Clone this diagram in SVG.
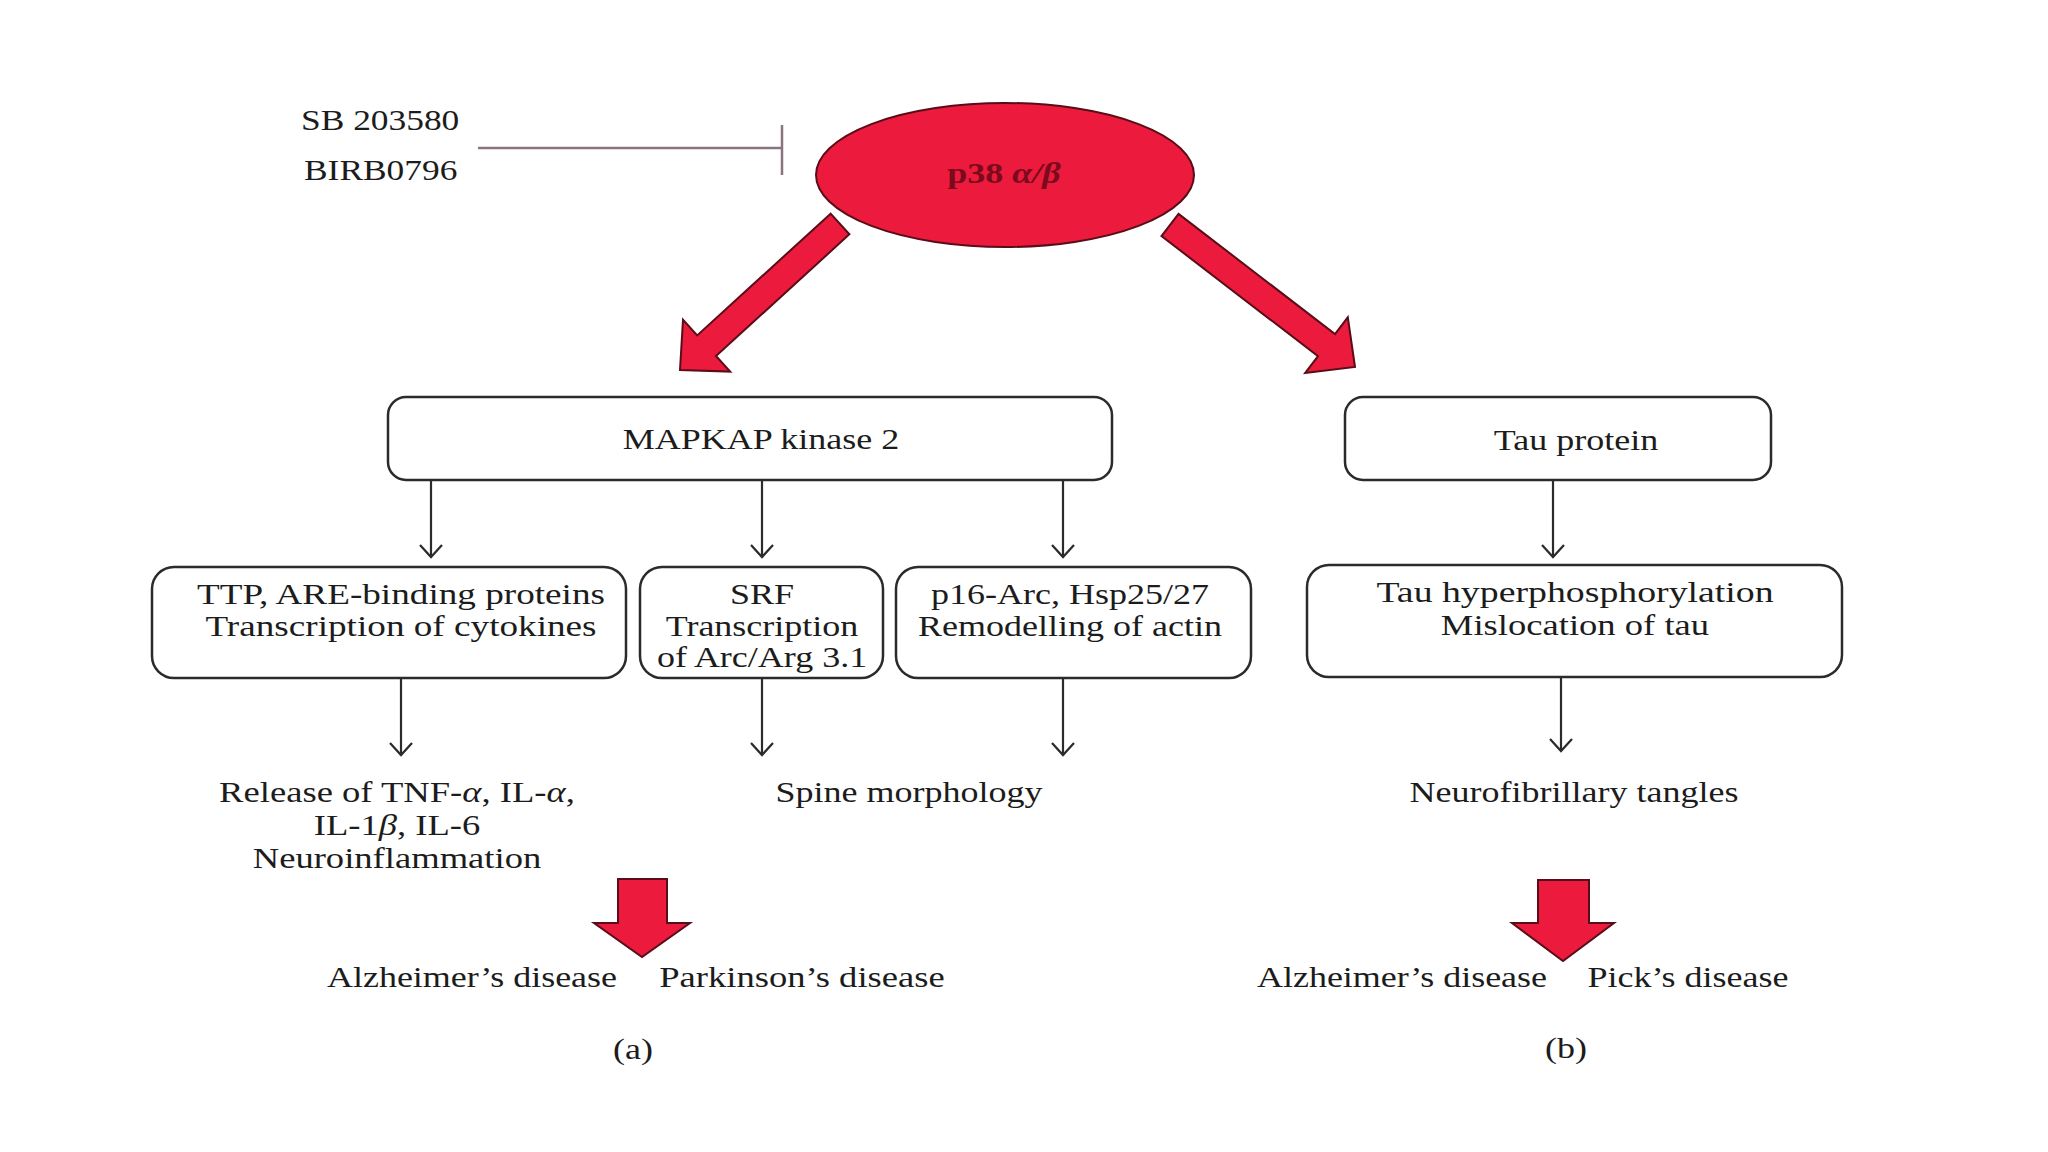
<svg xmlns="http://www.w3.org/2000/svg" width="2048" height="1152" viewBox="0 0 2048 1152">
<style>
  .t { font-family: "Liberation Serif", "Times New Roman", serif; font-size: 30px; fill: #1c1c1c; text-anchor: middle; }
  .ts { font-family: "Liberation Serif", "Times New Roman", serif; font-size: 30px; fill: #1c1c1c; text-anchor: start; }
  .box { fill: #ffffff; stroke: #2b2b2b; stroke-width: 2.5; }
  .thin { stroke: #2b2b2b; stroke-width: 2.2; fill: none; }
  .red { fill: #ec1a3c; stroke: #5a0d18; stroke-width: 2; stroke-linejoin: miter; }
  .inh { stroke: #8a7480; stroke-width: 2.5; fill: none; }
</style>
<defs>
  <marker id="vee" viewBox="-2 -13 16 26" refX="12" refY="0" markerWidth="16" markerHeight="26" markerUnits="userSpaceOnUse" orient="auto">
    <path d="M0,-11 L12,0 L0,11" fill="none" stroke="#2b2b2b" stroke-width="2.2"/>
  </marker>
</defs>
<rect width="2048" height="1152" fill="#ffffff"/>

<g id="inhibitors">
  <text class="ts" transform="translate(301,130) scale(1.18,1)">SB 203580</text>
  <text class="ts" transform="translate(304,180) scale(1.18,1)">BIRB0796</text>
</g>

<g id="p38">
  <ellipse cx="1005" cy="175" rx="189" ry="72" class="red"/>
  <text class="t" transform="translate(1004,183) scale(1.2,1)" style="fill:#7a0a1c;font-weight:bold">p38 <tspan font-style="italic">α/β</tspan></text>
</g>

<g id="mapkap">
  <rect class="box" x="388" y="397" width="724" height="83" rx="18"/>
  <text class="t" transform="translate(761,449) scale(1.2,1)">MAPKAP kinase 2</text>
</g>

<g id="tau">
  <rect class="box" x="1345" y="397" width="426" height="83" rx="18"/>
  <text class="t" transform="translate(1576,450) scale(1.2,1)">Tau protein</text>
</g>

<g id="ttp">
  <rect class="box" x="152" y="567" width="474" height="111" rx="22"/>
  <text class="t" transform="translate(401,604) scale(1.24,1)">TTP, ARE-binding proteins</text>
  <text class="t" transform="translate(401,636) scale(1.24,1)">Transcription of cytokines</text>
</g>

<g id="srf">
  <rect class="box" x="640" y="567" width="243" height="111" rx="22"/>
  <text class="t" transform="translate(762,604) scale(1.2,1)">SRF</text>
  <text class="t" transform="translate(762,636) scale(1.2,1)">Transcription</text>
  <text class="t" transform="translate(762,667) scale(1.2,1)">of Arc/Arg 3.1</text>
</g>

<g id="p16">
  <rect class="box" x="896" y="567" width="355" height="111" rx="22"/>
  <text class="t" transform="translate(1070,604) scale(1.2,1)">p16-Arc, Hsp25/27</text>
  <text class="t" transform="translate(1070,636) scale(1.2,1)">Remodelling of actin</text>
</g>

<g id="tauhyper">
  <rect class="box" x="1307" y="565" width="535" height="112" rx="22"/>
  <text class="t" transform="translate(1575,602) scale(1.26,1)">Tau hyperphosphorylation</text>
  <text class="t" transform="translate(1575,635) scale(1.22,1)">Mislocation of tau</text>
</g>

<g id="release">
  <text class="t" transform="translate(397,802) scale(1.22,1)">Release of TNF-<tspan font-style="italic">α</tspan>, IL-<tspan font-style="italic">α</tspan>,</text>
  <text class="t" transform="translate(397,835) scale(1.22,1)">IL-1<tspan font-style="italic">β</tspan>, IL-6</text>
  <text class="t" transform="translate(397,868) scale(1.22,1)">Neuroinflammation</text>
</g>

<g id="spine">
  <text class="t" transform="translate(909,802) scale(1.2,1)">Spine morphology</text>
</g>

<g id="tangles">
  <text class="t" transform="translate(1574,802) scale(1.2,1)">Neurofibrillary tangles</text>
</g>

<g id="diseases-a">
  <text class="t" transform="translate(472,987) scale(1.2,1)">Alzheimer’s disease</text>
  <text class="t" transform="translate(802,987) scale(1.22,1)">Parkinson’s disease</text>
  <text class="t" transform="translate(633,1059) scale(1.2,1)">(a)</text>
</g>

<g id="diseases-b">
  <text class="t" transform="translate(1402,987) scale(1.2,1)">Alzheimer’s disease</text>
  <text class="t" transform="translate(1688,987) scale(1.2,1)">Pick’s disease</text>
  <text class="t" transform="translate(1566,1058) scale(1.2,1)">(b)</text>
</g>

<g id="connectors">
  <path class="inh" d="M478,148 H782 M782,125 V175"/>
  <polygon class="red" points="830.6,213.7 697.2,335.4 683,319.8 680,370 730.2,371.6 716,356 849.4,234.3"/>
  <polygon class="red" points="1178.5,213.9 1335,334 1347.8,317.3 1355,367 1305.2,372.9 1318,356.2 1161.5,236.1"/>
  <line class="thin" x1="431" y1="480" x2="431" y2="557" marker-end="url(#vee)"/>
  <line class="thin" x1="762" y1="480" x2="762" y2="557" marker-end="url(#vee)"/>
  <line class="thin" x1="1063" y1="480" x2="1063" y2="557" marker-end="url(#vee)"/>
  <line class="thin" x1="1553" y1="480" x2="1553" y2="557" marker-end="url(#vee)"/>
  <line class="thin" x1="401" y1="678" x2="401" y2="755" marker-end="url(#vee)"/>
  <line class="thin" x1="762" y1="678" x2="762" y2="755" marker-end="url(#vee)"/>
  <line class="thin" x1="1063" y1="678" x2="1063" y2="755" marker-end="url(#vee)"/>
  <line class="thin" x1="1561" y1="677" x2="1561" y2="751" marker-end="url(#vee)"/>
  <polygon class="red" points="618,879 667,879 667,923 690,923 642,957 594,923 618,923"/>
  <polygon class="red" points="1538,880 1589,880 1589,923 1614,923 1563,961 1512,923 1538,923"/>
</g>
</svg>
